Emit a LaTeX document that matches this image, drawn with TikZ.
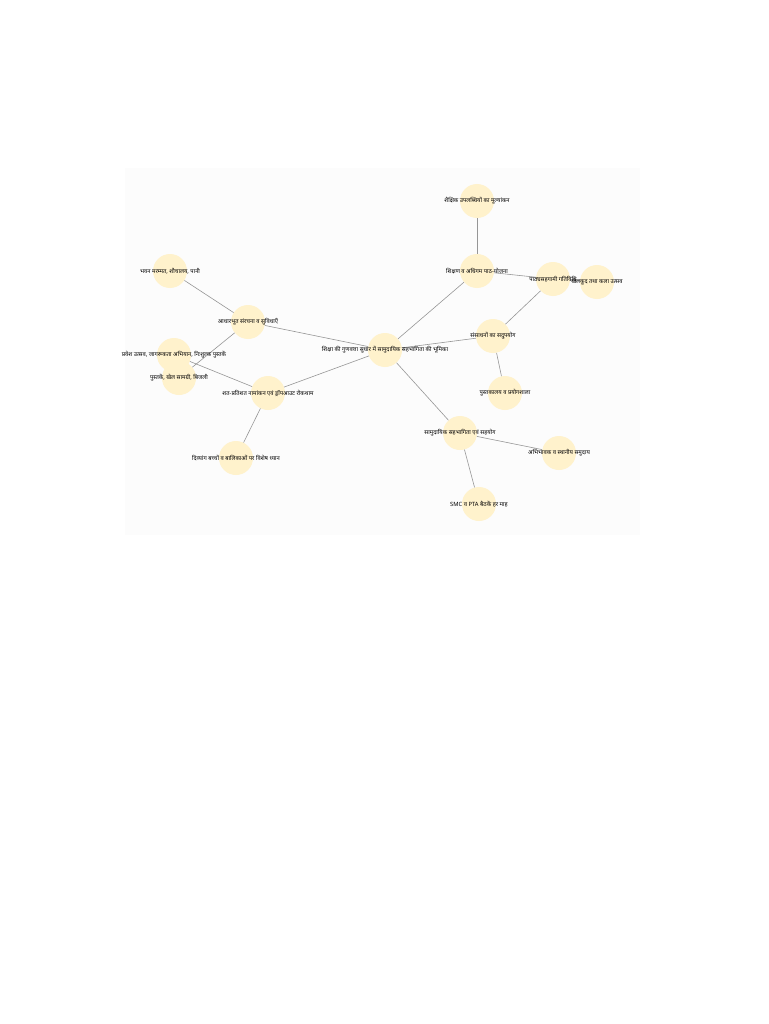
\documentclass[tikz,border=0pt]{standalone}
\usepackage{fontspec}
\setmainfont[Script=Devanagari]{Noto Sans}
\definecolor{topicfill}{RGB}{255,242,204}
\definecolor{linkgray}{RGB}{150,150,150}
\definecolor{panelbg}{RGB}{252,252,252}

\begin{document}
\begin{tikzpicture}[x=1pt,y=-1pt,
    topic/.style={circle,fill=topicfill,minimum size=34pt,inner sep=0pt},
    lbl/.style={font=\fontsize{5.8}{6.5}\selectfont,inner sep=0pt,text=black},
    link/.style={draw=linkgray,line width=0.6pt}]
    % Page and panel
    \useasboundingbox (0,0) rectangle (768,1024);
    \fill[white] (0,0) rectangle (768,1024);
    \fill[panelbg] (125,168) rectangle (640,535);

    % Topic circles
    \node[topic] (c1) at (477,201) {};
    \node[topic] (c2) at (477,271) {};
    \node[topic] (c3) at (553,279) {};
    \node[topic] (c4) at (597,282) {};
    \node[topic] (c5) at (493,336) {};
    \node[topic] (c6) at (505,393) {};
    \node[topic] (c7) at (460,433) {};
    \node[topic] (c8) at (559,453) {};
    \node[topic] (c9) at (479,504) {};
    \node[topic] (c10) at (385,350) {};
    \node[topic] (c11) at (170,271) {};
    \node[topic] (c12) at (248,322) {};
    \node[topic] (c13) at (174,355) {};
    \node[topic] (c14) at (179,378) {};
    \node[topic] (c15) at (268,393) {};
    \node[topic] (c16) at (236,458) {};

    % Links
    \draw[link] (c1) -- (c2);
    \draw[link] (c2) -- (c10);
    \draw[link] (c2) -- (c3);
    \draw[link] (c3) -- (c4);
    \draw[link] (c3) -- (c5);
    \draw[link] (c5) -- (c10);
    \draw[link] (c5) -- (c6);
    \draw[link] (c10) -- (c7);
    \draw[link] (c7) -- (c8);
    \draw[link] (c7) -- (c9);
    \draw[link] (c10) -- (c12);
    \draw[link] (c12) -- (c11);
    \draw[link] (c12) -- (c14);
    \draw[link] (c13) -- (c15);
    \draw[link] (c15) -- (c10);
    \draw[link] (c15) -- (c16);

    % Labels
    \node[lbl] (t1) at (c1) {शैक्षिक उपलब्धियों का मूल्यांकन};
    \node[lbl] (t2) at (c2) {शिक्षण व अधिगम पाठ-योजना};
    \node[lbl] (t3) at (c3) {पाठ्यसहगामी गतिविधि};
    \node[lbl] (t4) at (c4) {खेलकूद तथा कला उत्सव};
    \node[lbl] (t5) at (c5) {संसाधनों का सदुपयोग};
    \node[lbl] (t6) at (c6) {पुस्तकालय व प्रयोगशाला};
    \node[lbl] (t7) at (c7) {सामुदायिक सहभागिता एवं सहयोग};
    \node[lbl] (t8) at (c8) {अभिभावक व स्थानीय समुदाय};
    \node[lbl] (t9) at (c9) {SMC व PTA बैठकें हर माह};
    \node[lbl] (t10) at (c10) {शिक्षा की गुणवत्ता सुधार में सामुदायिक सहभागिता की भूमिका};
    \node[lbl] (t11) at (c11) {भवन मरम्मत, शौचालय, पानी};
    \node[lbl] (t12) at (c12) {आधारभूत संरचना व सुविधाएँ};
    \node[lbl] (t13) at (c13) {प्रवेश उत्सव, जागरूकता अभियान, निःशुल्क पुस्तकें};
    \node[lbl] (t14) at (c14) {पुस्तकें, खेल सामग्री, बिजली};
    \node[lbl] (t15) at (c15) {शत-प्रतिशत नामांकन एवं ड्रॉपआउट रोकथाम};
    \node[lbl] (t16) at (c16) {दिव्यांग बच्चों व बालिकाओं पर विशेष ध्यान};
\end{tikzpicture}
\end{document}
